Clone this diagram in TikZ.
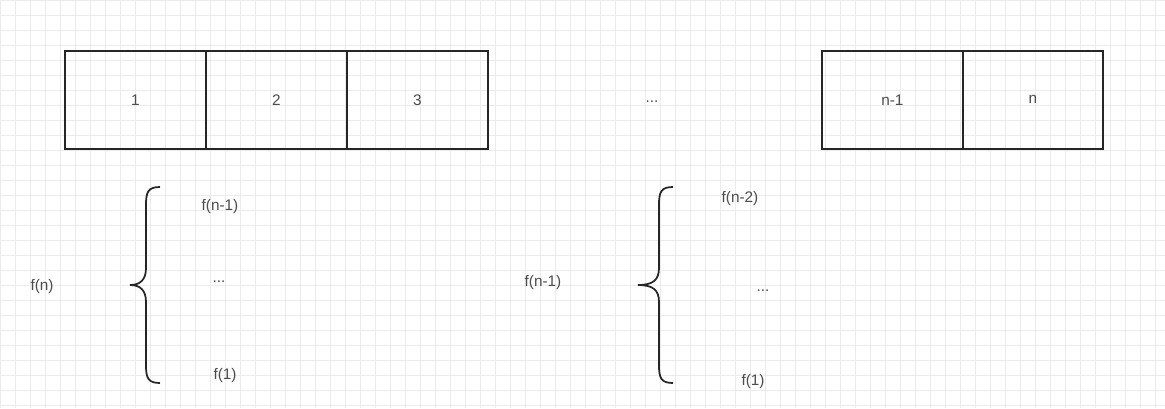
\documentclass[tikz,border=0pt]{standalone}
\usepackage{fontspec}
\setmainfont{Liberation Sans}
\begin{document}
\begin{tikzpicture}[x=0.75pt,y=-0.75pt,
  cell/.style={draw=black!85,line width=1.3pt,minimum width=141*0.75pt,minimum height=98*0.75pt,inner sep=0pt,anchor=north west,font=\fontsize{11.5}{13}\selectfont,text=black!70},
  lbl/.style={font=\fontsize{11.5}{13}\selectfont,text=black!70},
  br/.style={draw=black!85,line width=1.3pt}]
\fill[white] (0,0) rectangle (1165,408);
\useasboundingbox (0,0) rectangle (1165,408);
\draw[black!8,line width=0.5pt] (0,0) grid[step=15*0.75pt] (1165,408);
\node[cell] (c1) at (64,50) {1};
\node[cell] (c2) at (205,50) {2};
\node[cell] (c3) at (346,50) {3};
\node[lbl] (dots) at (652,102) {...};
\node[cell] (cn1) at (821,50) {n-1};
\node[cell,minimum width=140*0.75pt] (cn) at (962,50) {n};
\draw[br] (160,187) .. controls (148,187) and (146,192) .. (146,205) -- (146,268) .. controls (146,280) and (140,285) .. (130,285) .. controls (140,285) and (146,290) .. (146,302) -- (146,365) .. controls (146,378) and (148,383) .. (160,383);
\draw[br] (673,187) .. controls (661,187) and (659,192) .. (659,205) -- (659,268) .. controls (659,280) and (653,285) .. (638,285) .. controls (653,285) and (659,290) .. (659,302) -- (659,365) .. controls (659,378) and (661,383) .. (673,383);
\node[lbl] (fn) at (42,287) {f(n)};
\node[lbl] (a1) at (220,207) {f(n-1)};
\node[lbl] (a2) at (219,282) {...};
\node[lbl] (a3) at (225,376) {f(1)};
\node[lbl] (fn1) at (543,283) {f(n-1)};
\node[lbl] (b1) at (740,199) {f(n-2)};
\node[lbl] (b2) at (763,291) {...};
\node[lbl] (b3) at (753,382) {f(1)};
\end{tikzpicture}
\end{document}
